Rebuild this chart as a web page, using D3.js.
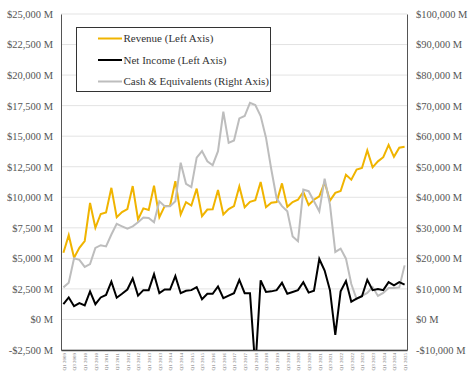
<!DOCTYPE html>
<html>
<head>
<meta charset="utf-8">
<script src="https://cdn.jsdelivr.net/npm/d3@7"></script>
<style>
  html, body { margin: 0; padding: 0; background: #fff; }
  svg { display: block; font-family: "Liberation Serif", "Times New Roman", serif; }
</style>
</head>
<body>
<svg id="chart" width="474" height="383"></svg>
<script>
// ---- Data (USD millions) ----
const quarters = (() => {
  const q = [];
  let year = 2009, qq = 1;
  for (let i = 0; i < 65; i++) {
    q.push("Q" + qq + " " + year);
    qq++; if (qq > 4) { qq = 1; year++; }
  }
  return q;
})();

const revenue = [
  5453, 6897,
  5051, 5861, 6422, 9536,
  7505, 8630, 8764, 10775,
  8374, 8792, 9039, 10916,
  8181, 9094, 8958, 10945,
  8372, 9275, 9307, 11321,
  8596, 9598, 9327, 10706,
  8448, 8993, 9012, 10594,
  8594, 9035, 9275, 10890,
  9188, 9628, 9768, 11256,
  9192, 9560, 9611, 11137,
  9216, 9614, 9798, 10440,
  9367, 9800, 10085, 11227,
  9728, 10360, 10513, 11840,
  11445, 12275, 12398, 13837,
  12453, 12941, 13280, 14287,
  13307, 14059, 14130
];

const netIncome = [
  1250, 1800,
  1085, 1331, 1150, 2300,
  1250, 1800, 2002, 3100,
  1780, 2100, 2450, 3350,
  1950, 2400, 2400, 3700,
  2150, 2450, 2450, 3550,
  2150, 2350, 2400, 2650,
  1650, 2100, 2100, 2700,
  1750, 1950, 2150, 3234,
  2150, 2150, -3967, 3200,
  2250, 2300, 2400, 3000,
  2100, 2250, 2400, 3050,
  2200, 2350, 4950, 4000,
  2400, -1255, 2300, 3150,
  1450, 1700, 1900, 3250,
  2400, 2500, 2400, 3050,
  2800, 3050, 2850
];

const cash = [
  10500, 12000,
  20000, 19500, 17200, 18100,
  23400, 24300, 23900, 27800,
  31300, 30500, 29700, 30500,
  31800, 33400, 33200, 31800,
  38700, 37100, 37100, 38700,
  51300, 44400, 43300, 53000,
  55100, 51800, 50500, 55100,
  68000, 57800, 58600, 65800,
  66600, 70900, 70200, 66600,
  59500, 49100, 39600, 37100,
  35400, 27200, 25600, 42500,
  42000, 38700, 35400, 46100,
  37600, 22100, 23200, 19900,
  11600, 6700, 7700, 8700,
  10600, 7700, 8700, 10300,
  10300, 10500, 17700
];

const leftTicks = [-2500, 0, 2500, 5000, 7500, 10000, 12500, 15000, 17500, 20000, 22500, 25000];
const rightTicks = [-10000, 0, 10000, 20000, 30000, 40000, 50000, 60000, 70000, 80000, 90000, 100000];

const seriesNames = ["Revenue (Left Axis)", "Net Income (Left Axis)", "Cash & Equivalents (Right Axis)"];
const seriesColors = ["#F0B400", "#000000", "#BDBDBD"];

// ---- Layout ----
const svg = d3.select("#chart");
const plot = { left: 61, right: 407, top: 14, bottom: 350 };

const x = d3.scalePoint().domain(quarters).range([plot.left, plot.right]).padding(0.45);
const yL = d3.scaleLinear().domain([-2500, 25000]).range([plot.bottom, plot.top]);
const yR = d3.scaleLinear().domain([-10000, 100000]).range([plot.bottom, plot.top]);

const fmt = v => (v < 0 ? "-$" : "$") + d3.format(",")(Math.abs(v)) + " M";

// gridlines
svg.append("g")
  .selectAll("line")
  .data(leftTicks)
  .join("line")
  .attr("x1", plot.left).attr("x2", plot.right)
  .attr("y1", d => yL(d)).attr("y2", d => yL(d))
  .attr("stroke", "#e3e3e3").attr("stroke-width", 1);

// left axis
const gL = svg.append("g").attr("transform", `translate(${plot.left},0)`)
  .call(d3.axisLeft(yL).tickValues(leftTicks).tickFormat(fmt).tickSize(0).tickPadding(8));
gL.select(".domain").attr("stroke", "#555");
gL.selectAll("text").attr("font-family", "Liberation Serif, serif").attr("font-size", 10.5).attr("fill", "#555");

// right axis
const gR = svg.append("g").attr("transform", `translate(${plot.right},0)`)
  .call(d3.axisRight(yR).tickValues(rightTicks).tickFormat(fmt).tickSize(0).tickPadding(9));
gR.select(".domain").attr("stroke", "#555");
gR.selectAll("text").attr("font-family", "Liberation Serif, serif").attr("font-size", 10.5).attr("fill", "#555");

// bottom axis
const gB = svg.append("g").attr("transform", `translate(0,${plot.bottom})`)
  .call(d3.axisBottom(x).tickValues(quarters.filter((d, i) => i % 2 === 0)).tickSize(0).tickPadding(0));
gB.select(".domain").attr("stroke", "#444").attr("stroke-width", 1.5);
gB.selectAll("text")
  .attr("font-family", "Liberation Serif, serif")
  .attr("font-size", 5)
  .attr("fill", "#777")
  .attr("text-anchor", "end")
  .attr("dy", "0.35em")
  .attr("transform", "translate(0,3) rotate(-90)")
  .attr("x", 0).attr("y", 0);

// clip
svg.append("clipPath").attr("id", "plotclip")
  .append("rect").attr("x", plot.left).attr("y", plot.top - 5)
  .attr("width", plot.right - plot.left).attr("height", plot.bottom - plot.top + 5);

const lines = svg.append("g").attr("clip-path", "url(#plotclip)");

const lineL = d3.line().x((d, i) => x(quarters[i])).y(d => yL(d));
const lineR = d3.line().x((d, i) => x(quarters[i])).y(d => yR(d));

lines.append("path").datum(revenue).attr("d", lineL)
  .attr("fill", "none").attr("stroke", seriesColors[0]).attr("stroke-width", 2).attr("stroke-linejoin", "miter");
lines.append("path").datum(cash).attr("d", lineR)
  .attr("fill", "none").attr("stroke", seriesColors[2]).attr("stroke-width", 2).attr("stroke-linejoin", "miter");
lines.append("path").datum(netIncome).attr("d", lineL)
  .attr("fill", "none").attr("stroke", seriesColors[1]).attr("stroke-width", 2).attr("stroke-linejoin", "miter");

// legend
const lg = svg.append("g");
lg.append("rect").attr("x", 76.5).attr("y", 27.5).attr("width", 194).attr("height", 64)
  .attr("fill", "#fff").attr("stroke", "#333").attr("stroke-width", 1);
seriesNames.forEach((name, i) => {
  const cy = 38.5 + i * 21.5;
  lg.append("line").attr("x1", 98).attr("x2", 122).attr("y1", cy).attr("y2", cy)
    .attr("stroke", seriesColors[i]).attr("stroke-width", 2);
  lg.append("text").attr("x", 123.5).attr("y", cy).attr("dy", "0.35em")
    .attr("font-size", 11).attr("fill", "#333").text(name);
});
</script>
</body>
</html>
